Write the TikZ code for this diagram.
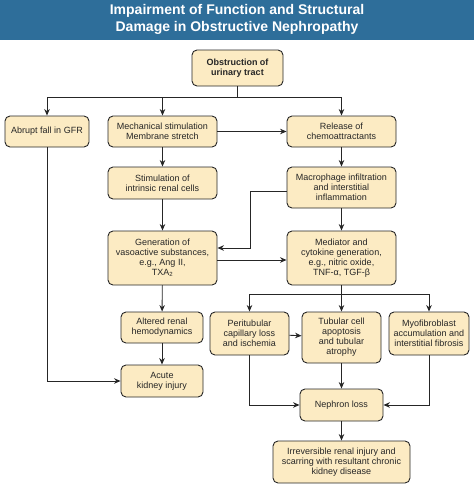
\documentclass[tikz,border=0pt]{standalone}
\usepackage{fontspec}
\setmainfont{Liberation Sans}
\usetikzlibrary{arrows.meta}
\definecolor{titleblue}{HTML}{2E6E9A}
\definecolor{boxfill}{HTML}{FCEBC3}
\tikzset{
  box/.style={draw=black!85, fill=boxfill, line width=0.9pt, rounded corners=5pt,
    align=center, inner sep=1pt, font=\fontsize{9}{10}\selectfont, text=black!85},
  arr/.style={-{Stealth[length=6.5pt,width=5.5pt]}, line width=0.9pt, draw=black!85},
  ln/.style={line width=0.9pt, draw=black!85}
}
\begin{document}
\begin{tikzpicture}[x=1pt,y=1pt]
\useasboundingbox (0,0) rectangle (474,-491);
\fill[titleblue] (0,0) rectangle (474,-40);
\node[text=white, align=center, font=\bfseries\fontsize{14}{17}\selectfont] (title) at (237,-19.5)
  {Impairment of Function and Structural\\Damage in Obstructive Nephropathy};
\node[box, minimum width=91pt, minimum height=36pt, font=\bfseries\fontsize{9}{10}\selectfont] (obst) at (237.5,-68) {Obstruction of\\urinary tract};
\node[box, minimum width=84pt, minimum height=31pt] (gfr) at (47,-131.5) {Abrupt fall in GFR};
\node[box, minimum width=109pt, minimum height=31pt] (mech) at (162.5,-131.5) {Mechanical stimulation\\Membrane stretch};
\node[box, minimum width=109pt, minimum height=31pt] (chemo) at (341.5,-131.5) {Release of\\chemoattractants};
\node[box, minimum width=109pt, minimum height=32pt] (stim) at (162.5,-183) {Stimulation of\\intrinsic renal cells};
\node[box, minimum width=109pt, minimum height=41pt] (macro) at (341.5,-187.5) {Macrophage infiltration\\and interstitial\\inflammation};
\node[box, minimum width=109pt, minimum height=54pt] (vaso) at (162.5,-258) {Generation of\\vasoactive substances,\\e.g., Ang II,\\TXA\textsubscript{2}};
\node[box, minimum width=109pt, minimum height=54pt] (medi) at (341.5,-258) {Mediator and\\cytokine generation,\\e.g., nitric oxide,\\TNF-α, TGF-β};
\node[box, minimum width=82pt, minimum height=31pt] (renal) at (162,-327.5) {Altered renal\\hemodynamics};
\node[box, minimum width=79pt, minimum height=43pt] (capil) at (249.5,-333.5) {Peritubular\\capillary loss\\and ischemia};
\node[box, minimum width=79pt, minimum height=51pt] (tubul) at (341.5,-337.5) {Tubular cell\\apoptosis\\and tubular\\atrophy};
\node[box, minimum width=80pt, minimum height=43pt] (myo) at (429,-333.5) {Myofibroblast\\accumulation and\\interstitial fibrosis};
\node[box, minimum width=82pt, minimum height=32pt] (aki) at (162,-381) {Acute\\kidney injury};
\node[box, minimum width=83pt, minimum height=32pt] (neph) at (341.5,-405) {Nephron loss};
\node[box, minimum width=137pt, minimum height=42pt] (ckd) at (341.5,-462) {Irreversible renal injury and\\scarring with resultant chronic\\kidney disease};
% branches
\coordinate (split) at (237.5,-97);
\coordinate (fork) at (341.5,-294);
\draw[ln] (obst) -- (split);
\draw[arr] (split) -| (gfr);
\draw[arr] (split) -| (mech);
\draw[arr] (split) -| (chemo);
\draw[arr] (mech) -- (chemo);
\draw[arr] (mech) -- (stim);
\draw[arr] (chemo) -- (macro);
\draw[arr] (stim) -- (vaso);
\draw[arr] (macro) -- (medi);
\draw[arr] ([yshift=-3.5pt]macro.west) -- ++(-36,0) |- ([yshift=10pt]vaso.east);
\draw[arr] ([yshift=-2pt]vaso.east) -- ([yshift=-2pt]medi.west);
\draw[ln] (medi) -- (fork);
\draw[arr] (fork) -| (capil);
\draw[arr] (fork) -- (tubul);
\draw[arr] (fork) -| (myo);
\draw[arr] (vaso) -- (renal);
\draw[arr] (renal) -- (aki);
\draw[arr] (gfr) |- (aki);
\draw[arr] (capil) -- (tubul);
\draw[arr] (capil) |- (neph);
\draw[arr] (myo) |- (neph);
\draw[arr] (tubul) -- (neph);
\draw[arr] (neph) -- (ckd);
\end{tikzpicture}
\end{document}
